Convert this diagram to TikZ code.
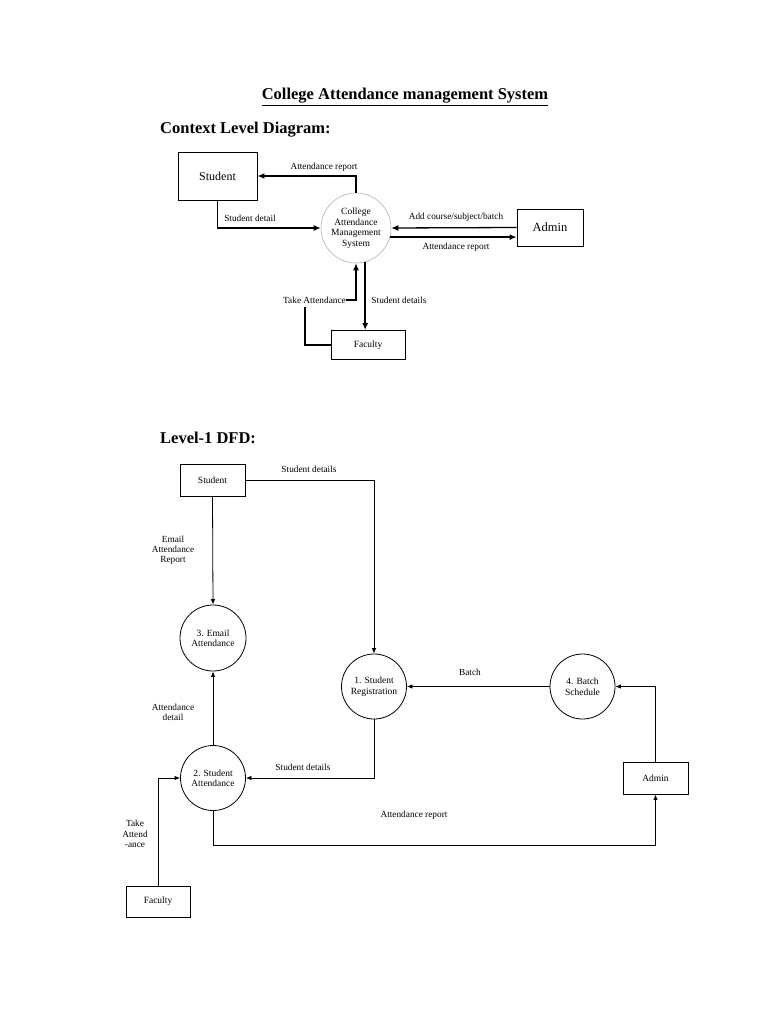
\documentclass[tikz,border=0pt]{standalone}
\usepackage{fontspec}
\setmainfont{Liberation Serif}
\usetikzlibrary{arrows.meta}
\begin{document}
\begin{tikzpicture}[x=1pt,y=-1pt,
  box/.style={draw,line width=0.9pt,inner sep=0pt,font=\fontsize{9.5}{11}\selectfont},
  proc/.style={draw,circle,line width=0.8pt,inner sep=0pt,align=center,font=\fontsize{9.5}{10.5}\selectfont},
  lbl/.style={inner sep=1pt,align=center,font=\fontsize{9.3}{10.2}\selectfont},
  thk/.style={line width=1.3pt,-{Latex[length=7pt,width=6pt]}},
  thn/.style={line width=0.8pt,-{Latex[length=5.5pt,width=4.5pt]}}]
  \useasboundingbox[fill=white] (0,0) rectangle (768,1024);
  \node[font=\fontsize{16.5}{18}\selectfont\bfseries] (title) at (405,97) {\underline{College Attendance management System}};
  \node[anchor=west,inner sep=0pt,font=\fontsize{16.5}{18}\selectfont\bfseries] (ctx) at (160,130) {Context Level Diagram:};
  % context level
  \node[box,minimum width=79,minimum height=48,font=\fontsize{12}{14}\selectfont] (stu) at (217.5,176) {Student};
  \node[proc,draw=gray!60,line width=0.6pt,minimum size=70] (sys) at (356,228) {College\\Attendance\\Management\\System};
  \node[box,minimum width=66,minimum height=37,font=\fontsize{12.5}{14}\selectfont] (adm) at (550,227.5) {Admin};
  \node[box,minimum width=74,minimum height=29] (fac) at (368,345) {Faculty};
  \node[lbl] (l1) at (324,167) {Attendance report};
  \node[lbl] (l2) at (250,218) {Student detail};
  \node[lbl] (l3) at (456,217) {Add course/subject/batch};
  \node[lbl] (l4) at (456,247) {Attendance report};
  \node[lbl,inner sep=0pt] (ta) at (314.5,300) {Take Attendance};
  \node[lbl] (l5) at (399,300) {Student details};
  \coordinate (tab) at (305,307);
  \draw[thk] (sys.north) |- (stu.east);
  \draw[thk] (stu.south) |- (sys.west);
  \draw[thk] (adm.west) -- (sys.east);
  \draw[thk] (sys.-15) -- (sys.-15 -| adm.west);
  \draw[line width=1.3pt] (fac.west) -| (tab);
  \draw[thk] (ta.east) -| (sys.south);
  \draw[thk] (sys.-75) -- (sys.-75 |- fac.north);
  % level 1
  \node[anchor=west,inner sep=0pt,font=\fontsize{16.5}{18}\selectfont\bfseries] (lvl) at (160,438) {Level-1 DFD:};
  \node[box,minimum width=65,minimum height=32] (s1) at (212.5,480) {Student};
  \node[proc,minimum size=66] (p3) at (213,638) {3. Email\\Attendance};
  \node[proc,minimum size=65] (p1) at (374,686.5) {1. Student\\Registration};
  \node[proc,minimum size=65] (p4) at (582.5,686.5) {4. Batch\\Schedule};
  \node[proc,minimum size=65] (p2) at (213,778) {2. Student\\Attendance};
  \node[box,minimum width=65,minimum height=32] (a1) at (655.5,778) {Admin};
  \node[box,minimum width=64,minimum height=31] (f1) at (158,901.5) {Faculty};
  \node[lbl] (m1) at (309,469) {Student details};
  \node[lbl] (m2) at (173,550) {Email\\Attendance\\Report};
  \node[lbl] (m3) at (173,712) {Attendance\\detail};
  \node[lbl] (m4) at (470,672) {Batch};
  \node[lbl] (m5) at (303,767) {Student details};
  \node[lbl] (m6) at (414,815) {Attendance report};
  \node[lbl] (m7) at (135,834) {Take\\Attend\\-ance};
  \draw[thn] (s1.east) -| (p1.north);
  \draw[thn] (s1.south) -- (p3.north);
  \draw[thn] (p2.north) -- (p3.south);
  \draw[thn] (p4.west) -- (p1.east);
  \draw[thn] (a1.north) |- (p4.east);
  \draw[thn] (p1.south) |- (p2.east);
  \draw[thn] (p2.south) -- ++(0,34.5) -| (a1.south);
  \draw[thn] (f1.north) |- (p2.west);
\end{tikzpicture}
\end{document}
